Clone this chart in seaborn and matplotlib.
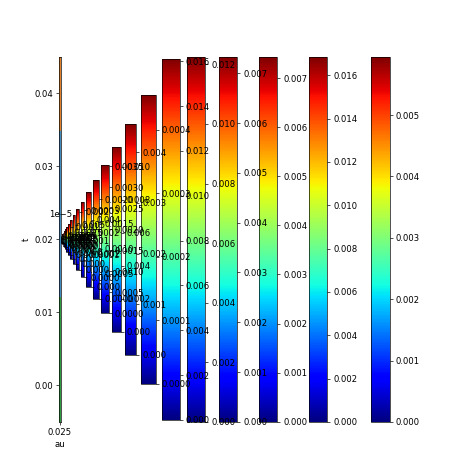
import matplotlib
matplotlib.use("Agg")
import matplotlib.pyplot as plt
import matplotlib as mpl
import numpy as np
import pandas as pd
import seaborn as sns

# Data
# Colour-bar ranges (vmin = 0), in the order they were added (right to left)
cbar_max = [0.00595, 0.01685, 0.00743, 0.00733, 0.01225, 0.01611, 0.000455,
            0.00456, 0.0112, 0.00352, 0.00238, 0.00565, 0.00034, 0.0021,
            0.0062, 0.000042, 0.0011, 0.0033, 0.0085, 0.0016, 0.0048,
            0.00071, 0.0027, 0.0095, 0.0013]
cbar_min = [0.0] * len(cbar_max)

# Traces in the main panel (au constant, t range)
trace_au = [0.025, 0.025, 0.025]
trace_t_start = [-0.005, 0.035, -0.005]
trace_t_end = [0.045, 0.045, 0.012]
trace_names = ["a", "b", "c"]
x_ticks = [0.025]

fig, ax = plt.subplots(figsize=(7.8, 7.8), dpi=474 / 7.8)

rows = []
for name, a, t0, t1 in zip(trace_names, trace_au, trace_t_start, trace_t_end):
    rows.append({"trace": name, "au": a, "t": t0})
    rows.append({"trace": name, "au": a, "t": t1})
df = pd.DataFrame(rows)
sns.lineplot(data=df, x="au", y="t", hue="trace", orient="y", sort=False,
             estimator=None, ax=ax, legend=False, linewidth=2,
             palette=["tab:blue", "tab:orange", "tab:green"])
ax.set_ylim(-0.005, 0.045)
ax.set_xticks(x_ticks)
ax.set_xlabel("au")
ax.set_ylabel("t")

for lo, hi in zip(cbar_min, cbar_max):
    sm = mpl.cm.ScalarMappable(norm=mpl.colors.Normalize(lo, hi), cmap="jet")
    fig.colorbar(sm, ax=ax)

fig.savefig("out.png", dpi=474 / 7.8)
